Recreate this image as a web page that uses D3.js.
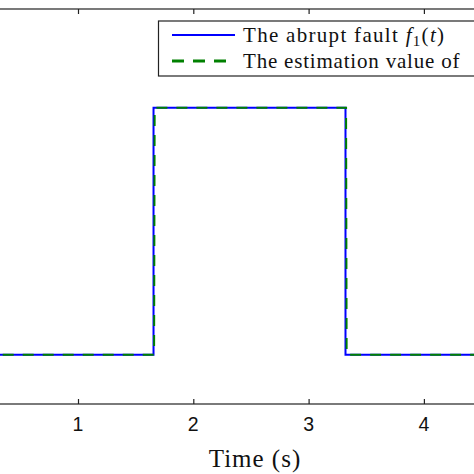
<!DOCTYPE html>
<html><head><meta charset="utf-8">
<script src="https://cdn.jsdelivr.net/npm/d3@7"></script>
<style>body{margin:0;background:#fff}svg{display:block}</style>
</head><body>
<script>
const timeFault = [0, 1.655, 1.655, 3.32, 3.32, 5];
const faultValues = [0, 0, 1, 1, 0, 0];
const timeEstimate = [0, 1.66, 1.665, 3.325, 3.33, 5];
const estimateValues = [0, 0, 1, 1, 0, 0];
const xTicks = [0, 1, 2, 3, 4, 5];
const xTickLabels = [1, 2, 3, 4];
const yTicks = [-0.2, 0, 0.2, 0.4, 0.6, 0.8, 1, 1.2, 1.4];
const legendLabels = ["The abrupt fault ", "The estimation value of "];

const W = 474, H = 474;
const svg = d3.select("body").append("svg").attr("width", W).attr("height", H);
const x = d3.scaleLinear().domain([0, 5]).range([-37.3, 539.2]);
const y = d3.scaleLinear().domain([-0.2, 1.4]).range([404, 9]);

const g = svg.append("g");
g.append("rect").attr("x", x(0)).attr("y", y(1.4)).attr("width", x(5) - x(0)).attr("height", y(-0.2) - y(1.4))
  .attr("fill", "none").attr("stroke", "#222").attr("stroke-width", 1.2);

const xb = g.append("g").attr("transform", `translate(0,${y(-0.2)})`)
  .call(d3.axisBottom(x).tickValues(xTicks).tickSize(-5).tickFormat(""));
xb.select(".domain").remove();
xb.selectAll(".tick line").attr("stroke", "#222").attr("stroke-width", 1.2);
g.append("g").selectAll("text").data(xTickLabels).join("text")
  .attr("x", d => x(d)).attr("y", 431).attr("text-anchor", "middle")
  .attr("font-family", "Liberation Sans, Arial, sans-serif").attr("font-size", 19.5).attr("fill", "#111")
  .text(d => d);
const xt = g.append("g").attr("transform", `translate(0,${y(1.4)})`)
  .call(d3.axisTop(x).tickValues(xTicks).tickSize(-5).tickFormat(""));
xt.select(".domain").remove();
xt.selectAll(".tick line").attr("stroke", "#222").attr("stroke-width", 1.2);
const yl = g.append("g").attr("transform", `translate(${x(0)},0)`)
  .call(d3.axisLeft(y).tickValues(yTicks).tickSize(-5).tickFormat(""));
yl.select(".domain").remove();

const lineF = d3.line().x((d, i) => x(timeFault[i])).y(d => y(d));
const lineE = d3.line().x((d, i) => x(timeEstimate[i])).y(d => y(d));
g.append("path").datum(faultValues).attr("d", lineF).attr("fill", "none").attr("stroke", "#0000ff").attr("stroke-width", 2);
g.append("path").datum(estimateValues).attr("d", lineE).attr("fill", "none").attr("stroke", "#008000").attr("stroke-width", 2).attr("stroke-dasharray", "11,9");

svg.append("text").attr("x", 255).attr("y", 467).attr("text-anchor", "middle")
  .attr("font-family", "Liberation Serif, DejaVu Serif, serif").attr("font-size", 25).attr("letter-spacing", 1).attr("fill", "#111").text("Time (s)");

const lg = svg.append("g");
lg.append("rect").attr("x", 158.5).attr("y", 21).attr("width", 330).attr("height", 55)
  .attr("fill", "#fff").attr("stroke", "#222").attr("stroke-width", 1.2);
lg.append("line").attr("x1", 172).attr("x2", 235).attr("y1", 35).attr("y2", 35).attr("stroke", "#0000ff").attr("stroke-width", 2);
lg.append("line").attr("x1", 172).attr("x2", 235).attr("y1", 61).attr("y2", 61).attr("stroke", "#008000").attr("stroke-width", 3).attr("stroke-dasharray", "12,9");
const font = "Liberation Serif, DejaVu Serif, serif";
const t1 = lg.append("text").attr("x", 243).attr("y", 42).attr("font-family", font).attr("font-size", 21).attr("letter-spacing", 1.3).attr("fill", "#111");
t1.append("tspan").text(legendLabels[0]);
t1.append("tspan").attr("font-style", "italic").text("f");
t1.append("tspan").attr("font-size", 15).attr("dy", 4).text("1");
t1.append("tspan").attr("dy", -4).text("(");
t1.append("tspan").attr("font-style", "italic").text("t");
t1.append("tspan").text(")");
lg.append("text").attr("x", 243).attr("y", 68).attr("font-family", font).attr("font-size", 21).attr("letter-spacing", 0.8).attr("fill", "#111").text(legendLabels[1]);
</script>
</body></html>
